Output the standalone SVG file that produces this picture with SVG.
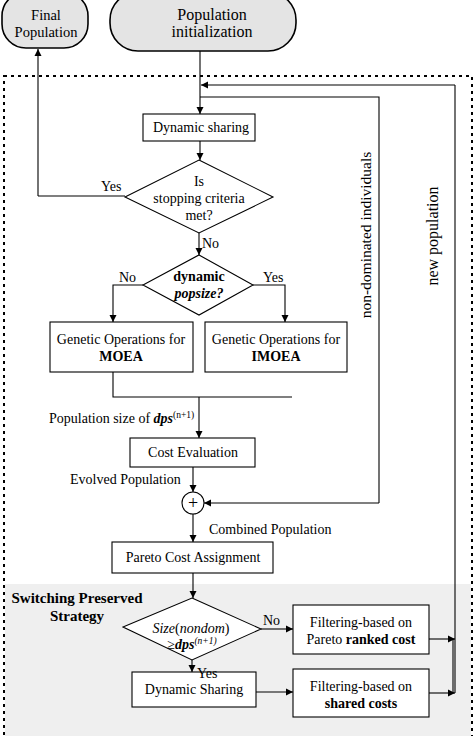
<svg xmlns="http://www.w3.org/2000/svg" width="474" height="736" viewBox="0 0 474 736">
<defs>
<marker id="ah" markerWidth="8" markerHeight="8" refX="7" refY="4" orient="auto" markerUnits="userSpaceOnUse">
<path d="M0,0.5 L7,4 L0,7.5 Z" fill="#000"/>
</marker>
<style>
text{font-family:"Liberation Serif","Times New Roman",serif;font-size:14px;fill:#000}
.c{text-anchor:middle}
.b{font-weight:bold}
.i{font-style:italic}
.box{fill:#fff;stroke:#000;stroke-width:1.1}
.pill{fill:#e4e4e4;stroke:#000;stroke-width:1.6}
.ln{fill:none;stroke:#000;stroke-width:1.1}
.ar{fill:none;stroke:#000;stroke-width:1.1;marker-end:url(#ah)}
.sup{font-size:9.5px}
</style>
</defs>
<rect width="474" height="736" fill="#fff"/>
<!-- shaded strategy region -->
<rect x="5" y="584" width="466" height="152" fill="#efefef"/>
<!-- outer dotted boundary -->
<rect x="4" y="76" width="468" height="670" fill="none" stroke="#000" stroke-width="2" stroke-dasharray="3 4"/>

<g id="final-population">
<rect class="pill" x="2" y="-8" width="86" height="56" rx="24"/>
<text class="c" x="46" y="20" style="font-size:14.5px">Final</text>
<text class="c" x="46" y="37" style="font-size:14.5px">Population</text>
</g>
<g id="population-init">
<rect class="pill" x="110" y="-8" width="186" height="59" rx="28"/>
<text class="c" x="212" y="20" style="font-size:16px">Population</text>
<text class="c" x="212" y="37" style="font-size:16px">initialization</text>
</g>
<g id="dynamic-sharing">
<rect class="box" x="143" y="114" width="112" height="27"/>
<text class="c" x="201" y="132">Dynamic sharing</text>
</g>
<g id="stopping">
<polygon class="box" points="199,160 273,197 199,233 125,197"/>
<text class="c" x="199" y="186">Is</text>
<text class="c" x="199" y="203">stopping criteria</text>
<text class="c" x="199" y="220">met?</text>
</g>
<g id="dyn-popsize">
<polygon class="box" points="199,255 253,285 199,315 143,285"/>
<text class="c b" x="199" y="281">dynamic</text>
<text class="c b i" x="199" y="298">popsize?</text>
</g>
<g id="moea">
<rect class="box" x="50" y="322" width="143" height="50"/>
<text class="c" x="121" y="344">Genetic Operations for</text>
<text class="c b" x="121" y="361">MOEA</text>
</g>
<g id="imoea">
<rect class="box" x="205" y="322" width="142" height="50"/>
<text class="c" x="276" y="344">Genetic Operations for</text>
<text class="c b" x="276" y="361">IMOEA</text>
</g>
<g id="cost-eval">
<rect class="box" x="130" y="438" width="125" height="29"/>
<text class="c" x="193" y="457">Cost Evaluation</text>
</g>
<g id="combine">
<circle class="box" cx="193" cy="503" r="11"/>
<text class="c" x="193" y="509" style="font-size:18px">+</text>
</g>
<g id="pareto">
<rect class="box" x="112" y="542" width="161" height="31"/>
<text class="c" x="193" y="562">Pareto Cost Assignment</text>
</g>
<g id="switch-label">
<text class="c b" x="77" y="603" style="font-size:15px">Switching Preserved</text>
<text class="c b" x="77" y="621" style="font-size:15px">Strategy</text>
</g>
<g id="size-check">
<polygon class="box" points="192,598 261,629 192,660 123,627"/>
<text class="c" x="191" y="633"><tspan class="i">Size</tspan>(<tspan class="i">nondom</tspan>)</text>
<text class="c" x="192" y="649">≥<tspan class="b i">dps</tspan><tspan class="i sup" dy="-5">(n+1)</tspan></text>
</g>
<g id="dyn-sharing2">
<rect class="box" x="132" y="672" width="124" height="35"/>
<text class="c" x="194" y="694">Dynamic Sharing</text>
</g>
<g id="filter-pareto">
<rect class="box" x="293" y="605" width="136" height="49"/>
<text class="c" x="361" y="627">Filtering-based on</text>
<text class="c" x="361" y="644">Pareto <tspan class="b">ranked cost</tspan></text>
</g>
<g id="filter-shared">
<rect class="box" x="293" y="669" width="136" height="48"/>
<text class="c" x="361" y="691">Filtering-based on</text>
<text class="c b" x="361" y="708">shared costs</text>
</g>

<g id="connectors">
<path class="ar" d="M200,51 V114"/>
<path class="ar" d="M455,85 H201"/>
<path class="ln" d="M200,97 H379 V503"/>
<path class="ln" d="M455,85 V693"/>
<path class="ar" d="M200,141 V160"/>
<path class="ln" d="M125,196 H38"/>
<path class="ar" d="M38,196 V49" stroke="#555"/>
<path class="ar" d="M199,233 V255"/>
<path class="ar" d="M143,285 H113 V322"/>
<path class="ar" d="M253,285 H285 V322"/>
<path class="ln" d="M113,372 V397 H292"/>
<path class="ar" d="M199,397 V438"/>
<path class="ar" d="M193,467 V492"/>
<path class="ar" d="M379,503 H204"/>
<path class="ar" d="M193,514 V542"/>
<path class="ar" d="M193,573 V598"/>
<path class="ar" d="M261,629 H293"/>
<path class="ar" d="M192,660 V672"/>
<path class="ar" d="M256,692 H293"/>
<path class="ar" d="M429,639 H455"/>
<path class="ar" d="M429,693 H455"/>
<path class="ln" d="M453,639 V693"/>
</g>
<g id="labels">
<text x="101" y="191">Yes</text>
<text x="202" y="248">No</text>
<text x="119" y="282">No</text>
<text x="263" y="282">Yes</text>
<text x="49" y="423">Population size of <tspan class="b i">dps</tspan><tspan class="sup" dy="-5">(n+1)</tspan></text>
<text x="70" y="484">Evolved Population</text>
<text x="209" y="534">Combined Population</text>
<text x="263" y="625">No</text>
<text x="197" y="678">Yes</text>
<text class="c" transform="translate(371,235) rotate(-90)" style="font-size:15.5px">non-dominated individuals</text>
<text class="c" transform="translate(438,236) rotate(-90)" style="font-size:16px">new population</text>
</g>
</svg>
